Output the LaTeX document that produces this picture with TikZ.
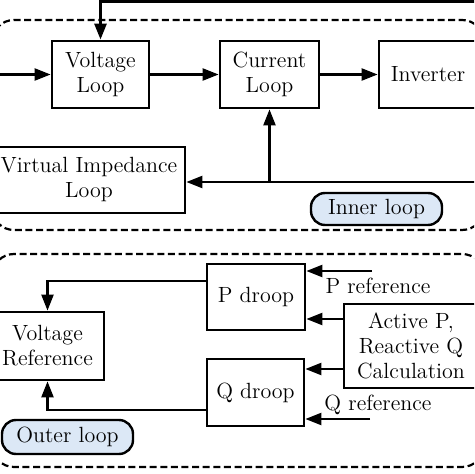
\documentclass[tikz,border=0pt]{standalone}
\usetikzlibrary{arrows.meta}
\definecolor{lblue}{RGB}{220,232,246}
\begin{document}
\begin{tikzpicture}[x=0.5pt,y=-0.5pt,
  blk/.style={draw, line width=1.4pt, inner sep=0pt, align=center, font=\fontsize{11}{12.5}\selectfont},
  tag/.style={draw, line width=1.2pt, fill=lblue, rounded corners=7pt, inner sep=0pt, font=\fontsize{11}{12.5}\selectfont},
  arr/.style={line width=1.1pt, -{Triangle[length=8pt,width=6pt]}},
  dashbox/.style={line width=1.1pt, dash pattern=on 3.5pt off 1.8pt, rounded corners=11pt},
  txt/.style={inner sep=0pt, font=\fontsize{11}{12.5}\selectfont}]
\useasboundingbox (0,0) rectangle (474,474);
\clip (0,0) rectangle (474,474);
% dashed groups
\draw[dashbox] (-8,20) rectangle (484,230);
\draw[dashbox] (-8,254) rectangle (484,467);
% inner loop blocks
\node[blk, minimum width=48.5pt, minimum height=33.5pt] (vl) at (100.5,74.5) {Voltage\\Loop};
\node[blk, minimum width=49.5pt, minimum height=33.5pt] (cl) at (269.5,74.5) {Current\\Loop};
\node[blk, minimum width=49pt, minimum height=33.5pt] (inv) at (428,74.5) {Inverter};
\node[blk, minimum width=96pt, minimum height=33pt] (vi) at (89,180) {Virtual Impedance\\Loop};
\node[tag, minimum width=65.5pt, minimum height=16pt] (il) at (376.5,209) {Inner loop};
% outer loop blocks
\node[blk, minimum width=56.5pt, minimum height=34pt] (vr) at (47.5,346) {Voltage\\Reference};
\node[blk, minimum width=49pt, minimum height=33pt] (pd) at (256,297) {P droop};
\node[blk, minimum width=48.5pt, minimum height=33.5pt] (qd) at (255.5,392.5) {Q droop};
\node[blk, minimum width=67pt, minimum height=42pt] (ac) at (411,346) {Active P,\\Reactive Q\\Calculation};
\node[tag, minimum width=65.5pt, minimum height=17pt] (ol) at (67.5,437) {Outer loop};
% coordinates
\coordinate (inL) at (-10,74.5);
\coordinate (topR) at (490,1.2);
\coordinate (fbR) at (490,182);
\coordinate (pr) at (372,271);
\coordinate (qr) at (370,419);
\coordinate (hp) at (0,281);
\coordinate (hq) at (0,410);
\coordinate (ap) at (0,319);
\coordinate (aq) at (0,369);
% inner connectors
\draw[arr] (inL) -- (vl.west);
\draw[arr] (vl.east) -- (cl.west);
\draw[arr] (cl.east) -- (inv.west);
\draw[arr, line width=1.4pt] (topR) -| (vl.north);
\draw[arr] (fbR) -- (vi.east |- fbR);
\draw[arr] (cl.south |- fbR) -- (cl.south);
% outer connectors
\draw[arr] (pd.west |- hp) -| (vr.north);
\draw[arr] (qd.west |- hq) -| (vr.south);
\draw[arr] (pr) -- (pd.east |- pr);
\draw[arr] (qr) -- (qd.east |- qr);
\draw[arr] (ac.west |- ap) -- (pd.east |- ap);
\draw[arr] (ac.west |- aq) -- (qd.east |- aq);
\node[txt] (prl) at (378,286) {P reference};
\node[txt] (qrl) at (378,405) {Q reference};
\end{tikzpicture}
\end{document}
